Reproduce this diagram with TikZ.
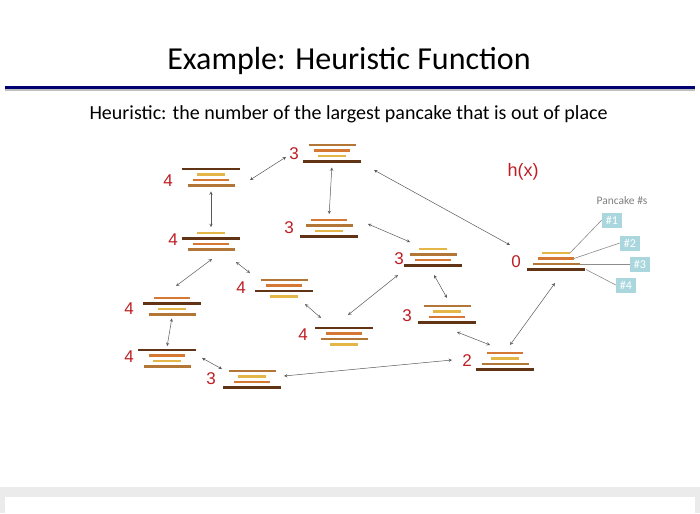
\documentclass[tikz,border=0pt]{standalone}
\usepackage{fontspec}
\setmainfont{Carlito}
\newfontfamily\arialf{Liberation Sans}
\definecolor{pcA}{RGB}{228,182,72}
\definecolor{pcB}{RGB}{212,120,52}
\definecolor{pcC}{RGB}{178,118,55}
\definecolor{pcD}{RGB}{98,52,22}
\definecolor{hred}{RGB}{190,30,35}
\definecolor{tagb}{RGB}{170,215,222}
\newcommand\pstack[7]{%
  \node[stk] (#1) at (#2,{-#3-8.25}) {};
  \foreach \p [count=\i] in {#4,#5,#6,#7} {
    \pgfmathsetmacro\w{{28,36,47,58}[\p-1]}
    \ifcase\p\or\def\cc{pcA}\or\def\cc{pcB}\or\def\cc{pcC}\or\def\cc{pcD}\fi
    \draw[draw=\cc, line width=2.2pt] ({#2-\w/2},{-#3-5.5*(\i-1)}) -- ({#2+\w/2},{-#3-5.5*(\i-1)});
  }}
\begin{document}
\begin{tikzpicture}[x=1pt,y=1pt,
  stk/.style={minimum width=60pt,minimum height=22pt,inner sep=0pt},
  lab/.style={text=hred,font=\arialf\fontsize{17}{17}\selectfont},
  arr/.style={<->,>=stealth,draw=black!65,line width=0.5pt},
  tag/.style={fill=tagb,text=white,font=\fontsize{12}{12}\selectfont,inner xsep=4pt,inner ysep=2pt,minimum height=15pt}]
\useasboundingbox (0,0) rectangle (700,-513);
\fill[white] (0,0) rectangle (700,-513);
\fill[black!8] (0,-487) rectangle (700,-513);
\fill[white] (5,-497) rectangle (695,-513);
\node[font=\fontsize{32}{32}\selectfont] (title) at (349,-61) {Example: Heuristic Function};
\fill[black!25] (5,-89.5) rectangle (695,-91.5);
\fill[blue!45!black] (5,-86.5) rectangle (695,-89.5);
\node[font=\fontsize{20}{20}\selectfont,anchor=west] (sub) at (86,-114) {Heuristic: the number of the largest pancake that is out of place};
\node[text=hred,font=\arialf\fontsize{18}{18}\selectfont] (hx) at (523,-172) {h(x)};
\node[text=black!50,font=\fontsize{11.5}{11.5}\selectfont] (pn) at (622,-201) {Pancake \#s};
% stacks
\pstack{A}{211}{169}{4}{1}{2}{3}
\pstack{B}{332}{145}{3}{2}{1}{4}
\pstack{C}{329}{220}{2}{3}{1}{4}
\pstack{D}{211}{233}{1}{4}{2}{3}
\pstack{E}{172}{298}{2}{4}{1}{3}
\pstack{F}{167}{350}{4}{2}{1}{3}
\pstack{G}{252}{371}{3}{1}{2}{4}
\pstack{H}{284}{280}{3}{2}{4}{1}
\pstack{I}{344}{328}{4}{2}{3}{1}
\pstack{J}{433}{249}{1}{3}{2}{4}
\pstack{K}{447}{306}{3}{1}{2}{4}
\pstack{L}{505}{353}{2}{1}{3}{4}
\pstack{M}{556}{253}{1}{2}{3}{4}
% h labels
\node[lab] (lA) at (168,-181) {4};
\node[lab] (lB) at (294,-154) {3};
\node[lab] (lC) at (289,-228) {3};
\node[lab] (lD) at (173,-240) {4};
\node[lab] (lE) at (129,-309) {4};
\node[lab] (lF) at (129,-357) {4};
\node[lab] (lG) at (211,-379) {3};
\node[lab] (lH) at (241,-288) {4};
\node[lab] (lI) at (303,-335) {4};
\node[lab] (lJ) at (399,-259) {3};
\node[lab] (lK) at (407,-316) {3};
\node[lab] (lL) at (467,-361) {2};
\node[lab] (lM) at (516,-262) {0};
% connectors
\coordinate (a1) at (250,-180); \coordinate (b1) at (286,-157);
\draw[arr] (a1) -- (b1);
\draw[arr,shorten <=3pt,shorten >=3pt] (B.south) -- (C.north);
\draw[arr,shorten <=3pt,shorten >=3pt] (A.south) -- (D.north);
\coordinate (b2) at (374,-170); \coordinate (m2) at (510,-245);
\draw[arr] (b2) -- (m2);
\coordinate (c3) at (368,-224); \coordinate (j3) at (410,-242);
\draw[arr] (c3) -- (j3);
\coordinate (d4) at (212,-259); \coordinate (e4) at (176,-286);
\draw[arr] (d4) -- (e4);
\coordinate (d5) at (236,-262); \coordinate (h5) at (250,-273);
\draw[arr] (d5) -- (h5);
\draw[arr,shorten <=1pt,shorten >=1pt] (E.south) -- (F.north);
\coordinate (f6) at (202,-358); \coordinate (g6) at (222,-369);
\draw[arr] (f6) -- (g6);
\coordinate (h7) at (305,-304); \coordinate (i7) at (321,-318);
\draw[arr] (h7) -- (i7);
\coordinate (i8) at (348,-315); \coordinate (j8) at (398,-275);
\draw[arr] (i8) -- (j8);
\coordinate (j9) at (434,-275); \coordinate (k9) at (447,-298);
\draw[arr] (j9) -- (k9);
\coordinate (k10) at (457,-332); \coordinate (l10) at (490,-345);
\draw[arr] (k10) -- (l10);
\coordinate (g11) at (284,-376); \coordinate (l11) at (452,-360);
\draw[arr] (g11) -- (l11);
\coordinate (l12) at (510,-345); \coordinate (m12) at (555,-283);
\draw[arr] (l12) -- (m12);
% pancake tags
\node[tag] (t1) at (612,-220) {\#1};
\node[tag] (t2) at (630,-243) {\#2};
\node[tag] (t3) at (640,-264) {\#3};
\node[tag] (t4) at (626,-285) {\#4};
\coordinate (p1) at (570,-253); \coordinate (p2) at (574,-258.5);
\coordinate (p3) at (580,-264); \coordinate (p4) at (586,-269.5);
\draw[black!45,line width=0.6pt] (p1) -- (t1.west);
\draw[black!45,line width=0.6pt] (p2) -- (t2.west);
\draw[black!45,line width=0.6pt] (p3) -- (t3.west);
\draw[black!45,line width=0.6pt] (p4) -- (t4.west);
\end{tikzpicture}
\end{document}
